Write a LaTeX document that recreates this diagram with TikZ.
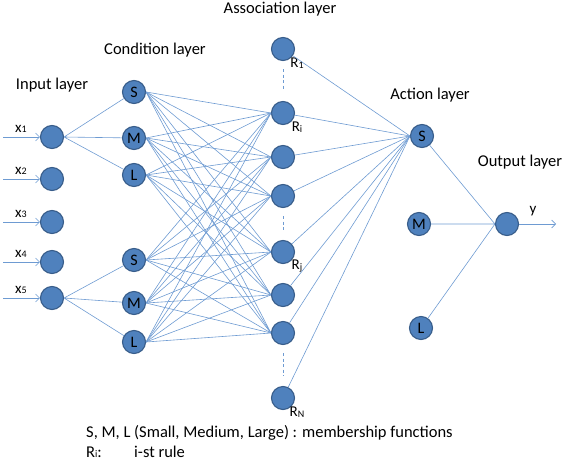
\documentclass[tikz,border=0pt]{standalone}
\usepackage{fontspec}
\setmainfont{Carlito}
\usetikzlibrary{arrows.meta,positioning}
\definecolor{nnfill}{RGB}{79,129,189}
\definecolor{nnedge}{RGB}{56,93,138}
\definecolor{nnline}{RGB}{110,155,210}
\tikzset{
  neuron/.style={circle, draw=nnedge, fill=nnfill, line width=1.1pt,
                 minimum size=23pt, inner sep=0pt, font=\fontsize{16}{16}\selectfont},
  wire/.style  ={line width=0.6pt, nnline},
  wirein/.style={wire, -{Straight Barb[length=4pt,width=8pt]}},
  gapline/.style={wire, dash pattern=on 3pt off 2.5pt, shorten <=8pt, shorten >=10pt},
  layertitle/.style={font=\fontsize{16.5}{18}\selectfont, inner sep=0pt},
  sublabel/.style={font=\fontsize{15}{15}\selectfont, inner sep=0pt},
}
\newcommand{\sml}[1]{\raisebox{-0.5pt}{\fontsize{10}{10}\selectfont #1}}

\begin{document}
\begin{tikzpicture}[x=1pt, y=-1pt]
  \useasboundingbox (0,0) rectangle (567,463);
  % input layer
  \foreach \i/\y in {1/137, 2/179, 3/222, 4/262, 5/298} {
    \node[neuron] (in\i) at (52,\y) {};
    \coordinate (src\i) at (3,\y);
    \draw[wirein] (src\i) -- (in\i);
    \node[sublabel] (lx\i) at (21,\y-8) {x\sml{\i}};
  }
  % condition layer
  \node[neuron] (cS1) at (134,92)  {S};
  \node[neuron] (cM1) at (134,138) {M};
  \node[neuron] (cL1) at (134,175) {L};
  \node[neuron] (cS2) at (134,260) {S};
  \node[neuron] (cM2) at (134,303) {M};
  \node[neuron] (cL2) at (134,342) {L};
  % association layer
  \node[neuron] (r1) at (283,49) {};
  \node[neuron] (a1) at (283,113) {};
  \node[neuron] (a2) at (283,157) {};
  \node[neuron] (a3) at (283,196) {};
  \node[neuron] (a4) at (283,252) {};
  \node[neuron] (a5) at (283,295) {};
  \node[neuron] (a6) at (283,333) {};
  \node[neuron] (rN) at (283,398) {};
  \node[sublabel] (lr1) at ([shift={(14,14)}]r1) {R\sml{1}};
  \node[sublabel] (lri) at ([shift={(14,14)}]a1) {R\sml{i}};
  \node[sublabel] (lrj) at ([shift={(14,14)}]a4) {R\sml{j}};
  \node[sublabel] (lrN) at ([shift={(14,14)}]rN) {R\sml{N}};
  \draw[gapline] (r1) -- (a1);
  \draw[gapline] (a3) -- (a4);
  \draw[gapline] (a6) -- (rN);
  % action and output layer
  \node[neuron] (aS) at (422,136) {S};
  \node[neuron] (aM) at (419,224) {M};
  \node[neuron] (aL) at (421,328) {L};
  \node[neuron] (out) at (507,224) {};
  \coordinate (yend) at (556,224);
  \node[sublabel] (ly) at (533,211) {y};

  % connections
  \draw[wire] (in1.east) -- (cS1) (in1.east) -- (cM1) (in1.east) -- (cL1);
  \draw[wire] (in5.east) -- (cS2) (in5.east) -- (cM2) (in5.east) -- (cL2);
  \foreach \c in {cS1,cM1,cL1,cS2,cM2,cL2}
    \foreach \a in {a1,a2,a3,a4,a5,a6}
      \draw[wire] (\c.east) -- (\a.west);
  \foreach \a in {r1,a1,a2,a3,a4,a5,a6,rN}
    \draw[wire] (\a) -- (aS.west);
  \draw[wire] (aS) -- (out.west) (aM.east) -- (out.west) (aL) -- (out.west);
  \draw[wirein] (out) -- (yend);

  % titles
  \node[layertitle] (tin)  at (52,85)  {Input layer};
  \node[layertitle] (tcon) at (155,50) {Condition layer};
  \node[layertitle] (tass) at (280,9)  {Association layer};
  \node[layertitle] (tact) at (430,95) {Action layer};
  \node[layertitle] (tout) at (520,162) {Output layer};

  % key
  \node[layertitle, anchor=west] (key1) at (86,433)
    {S, M, L (Small, Medium, Large) : membership functions};
  \node[layertitle, anchor=west] (key2) at (86,452) {R\sml{i}:};
  \node[layertitle, anchor=west] (key3) at (134,452) {i-st rule};
\end{tikzpicture}
\end{document}
